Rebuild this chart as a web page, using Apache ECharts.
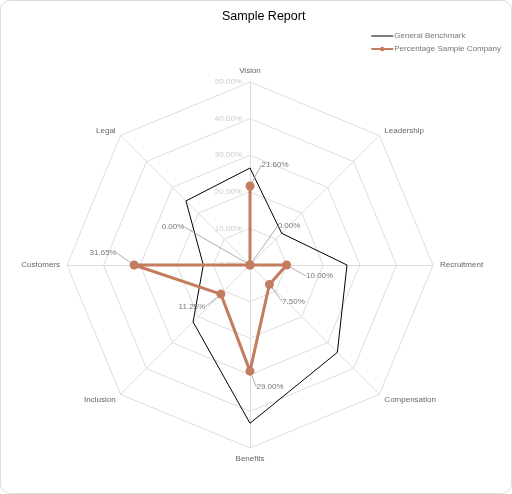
<!DOCTYPE html>
<html>
<head>
    <meta charset="utf-8">
    <script src="https://cdn.jsdelivr.net/npm/echarts@6/dist/echarts.min.js"></script>
</head>
<body style="margin: 0">
    <div id="frame" style="position: absolute; left: 0; top: 0; width: 510px; height: 492px; border: 1px solid #ddd; border-radius: 10px; pointer-events: none; z-index: 5;"></div>
    <div id="container" style="position: absolute; left: 0; top: 0; width: 512px; height: 494px;"></div>
    <script>
    // categories as they appear clockwise from the top
    var categories = ['Vision', 'Leadership', 'Recruitment', 'Compensation', 'Benefits', 'Inclusion', 'Customers', 'Legal'];
    var benchmark = [26.5, 12.25, 26.5, 33.75, 43.25, 22, 12.75, 24.75];
    var company = [21.6, 0, 10, 7.5, 29, 11.25, 31.65, 0];
    var seriesNames = ['General Benchmark', 'Percentage Sample Company'];
    var axisMax = 50;

    // label offsets (px) for the company labels, same order as categories
    var labelOffsets = [[25, -21], [39, -39], [33, 11], [24, 17], [20, 16], [-29, 13], [-31, -12], [-77, -38]];

    // echarts lays indicators out counter-clockwise, so walk the list backwards after the first
    var order = [0, 7, 6, 5, 4, 3, 2, 1];
    function reorder(arr) { return order.map(function (i) { return arr[i]; }); }

    var indicator = reorder(categories).map(function (name, i) {
        var ind = { name: name, max: axisMax, min: 0 };
        if (i === 0) {
            ind.axisLabel = {
                show: true,
                color: '#ccc',
                fontSize: 8,
                formatter: function (v) { return Number(v).toFixed(2) + '%'; }
            };
        }
        return ind;
    });
    var offsets = reorder(labelOffsets);

    // legend icons: thin line, and thick line with a small dot
    var lineIcon = 'path://M0,0M22,6M0,2.5L22,2.5L22,3.5L0,3.5Z';
    var dotLineIcon = 'path://M0,0M22,6M0,2L9,2A2.2,2.2 0 0,1 13,2L22,2L22,4L13,4A2.2,2.2 0 0,1 9,4L0,4Z';

    var dom = document.getElementById('container');
    var myChart = echarts.init(dom);
    var labelCount = 0;

    var option = {
        backgroundColor: '#fff',
        title: {
            text: 'Sample Report',
            left: 217,
            top: 5,
            textStyle: { fontSize: 12.5, fontWeight: 'normal', color: '#000', fontFamily: 'Liberation Sans' }
        },
        legend: {
            orient: 'vertical',
            right: 6,
            top: 27,
            itemGap: 5,
            itemWidth: 22,
            itemHeight: 6,
            textStyle: { fontSize: 8, color: '#777', fontFamily: 'Liberation Sans', padding: [0, 0, 0, -4] },
            data: [{ name: seriesNames[0], icon: lineIcon }, { name: seriesNames[1], icon: dotLineIcon }]
        },
        radar: {
            center: [250, 265],
            radius: 183,
            startAngle: 90,
            splitNumber: 5,
            shape: 'polygon',
            indicator: indicator,
            axisName: { color: '#666', fontSize: 8, fontFamily: 'Liberation Sans' },
            nameGap: 7,
            splitLine: { lineStyle: { color: '#ddd', width: 1 } },
            splitArea: { show: false },
            axisLine: { lineStyle: { color: '#ddd', width: 1 } },
            axisLabel: { show: false }
        },
        textStyle: { fontFamily: 'Liberation Sans' },
        series: [{
            name: seriesNames[0],
            type: 'radar',
            symbol: 'none',
            lineStyle: { color: '#000', width: 1 },
            itemStyle: { color: '#000' },
            data: [{ name: seriesNames[0], value: reorder(benchmark) }],
            z: 2
        }, {
            name: seriesNames[1],
            type: 'radar',
            symbol: 'circle',
            symbolSize: 9,
            lineStyle: { color: '#c47c5f', width: 3 },
            itemStyle: { color: '#c47c5f' },
            label: {
                show: true,
                position: 'inside',
                fontSize: 8,
                color: '#777',
                formatter: function (p) { return Number(p.value).toFixed(2) + '%'; }
            },
            labelLine: { show: true, lineStyle: { color: '#999', width: 0.8 } },
            labelLayout: function () {
                var o = offsets[labelCount % 8];
                labelCount++;
                return { dx: o[0], dy: o[1] };
            },
            data: [{ name: seriesNames[1], value: reorder(company) }],
            z: 3
        }]
    };

    myChart.setOption(option);
    </script>
</body>
</html>
